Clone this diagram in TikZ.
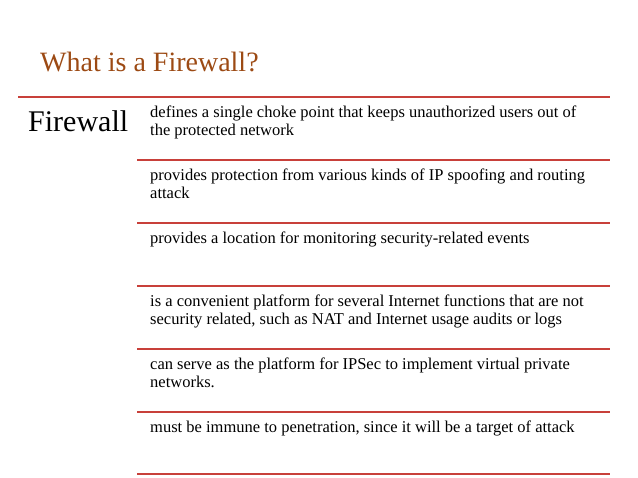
\documentclass[tikz,border=0pt]{standalone}
\usepackage{fontspec}
\setmainfont{Liberation Serif}
\definecolor{ttl}{HTML}{9C4A14}
\definecolor{rl}{HTML}{C8403A}
\begin{document}
\begin{tikzpicture}[x=1pt,y=-1pt,
  rule/.style={draw=rl,line width=1.6pt},
  item/.style={anchor=north west,inner sep=0pt,align=left,font=\fontsize{16.5}{18}\selectfont}]
\useasboundingbox (0,0) rectangle (638,478);
\node[anchor=base west,inner sep=0pt,text=ttl,font=\fontsize{28}{32}\selectfont] (title) at (40,72) {What is a Firewall?};
\draw[rule] (18,97) -- (610,97);
\node[anchor=base west,inner sep=0pt,font=\fontsize{30}{34}\selectfont] (fw) at (28,132) {Firewall};
\foreach \y in {160,223,286,349,412,474} \draw[rule] (137,\y) -- (610,\y);
\node[item] (i1) at (150,106) {defines a single choke point that keeps unauthorized users out of\\the protected network};
\node[item] (i2) at (150,169) {provides protection from various kinds of IP spoofing and routing\\attack};
\node[item] (i3) at (150,232) {provides a location for monitoring security-related events};
\node[item] (i4) at (150,295) {is a convenient platform for several Internet functions that are not\\security related, such as NAT and Internet usage audits or logs};
\node[item] (i5) at (150,358) {can serve as the platform for IPSec to implement virtual private\\networks.};
\node[item] (i6) at (150,421) {must be immune to penetration, since it will be a target of attack};
\end{tikzpicture}
\end{document}
